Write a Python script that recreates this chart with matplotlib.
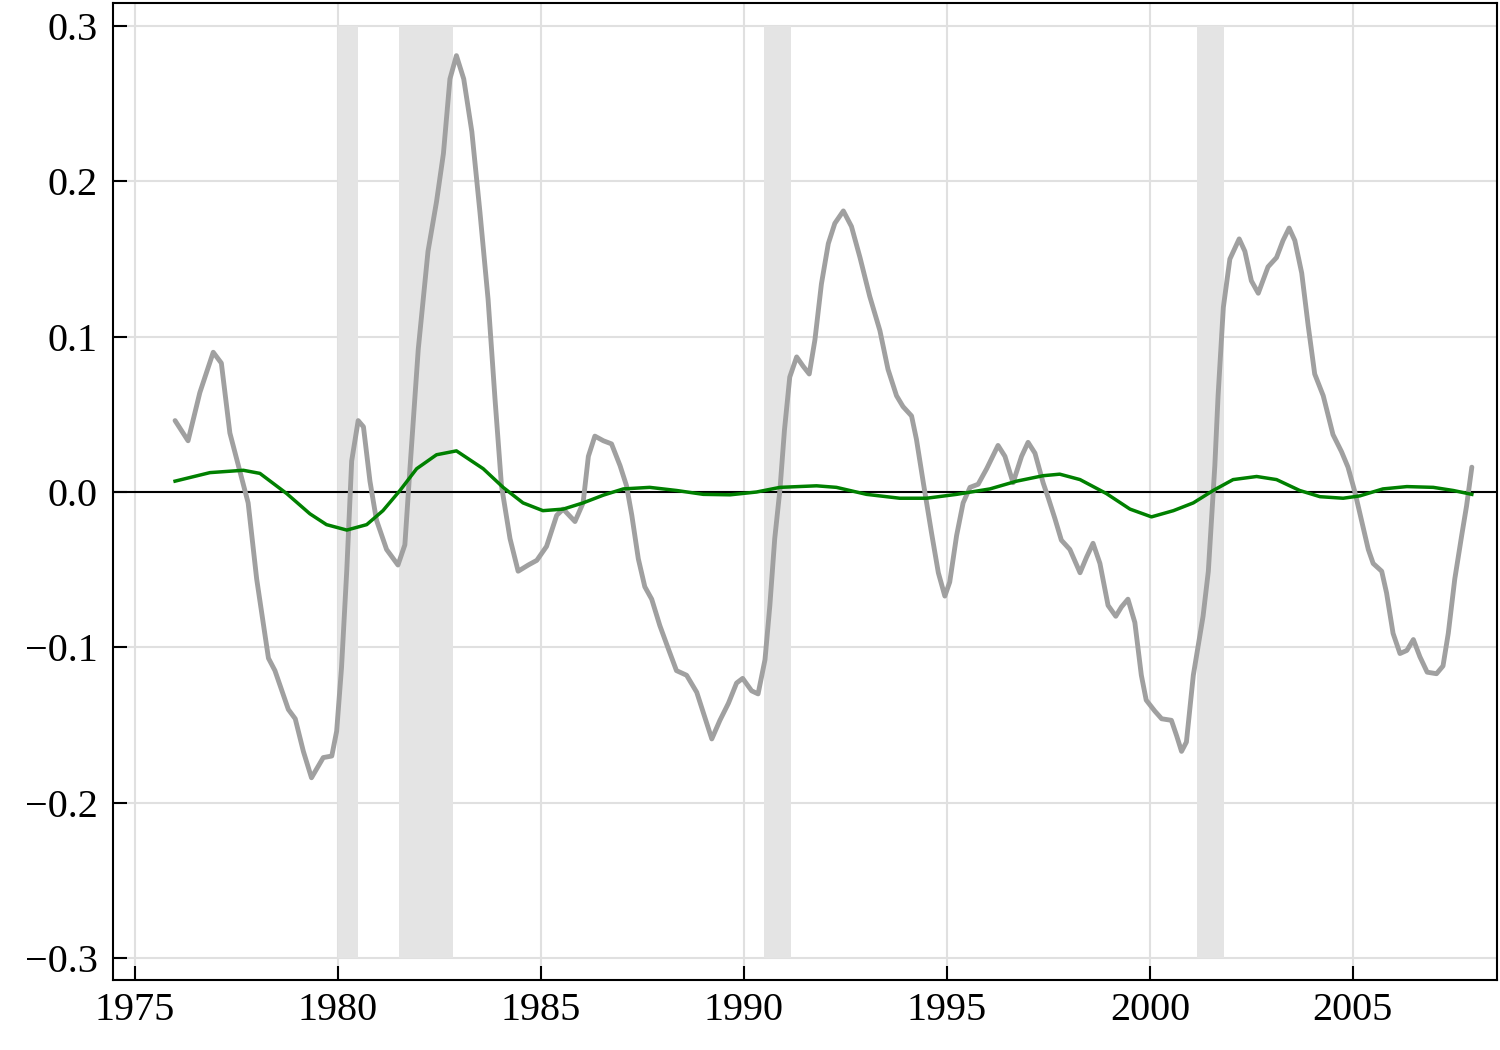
import matplotlib
matplotlib.use("Agg")
import matplotlib.pyplot as plt

plt.rcParams['font.family'] = ['Liberation Serif', 'DejaVu Serif']

# gray series (year, value)
gray_years = [1975.99, 1976.31, 1976.60, 1976.93, 1977.13, 1977.34, 1977.59, 1977.79,
              1978.00, 1978.29, 1978.45, 1978.78, 1978.95, 1979.15, 1979.35, 1979.64,
              1979.85, 1979.97, 1980.09, 1980.22, 1980.34, 1980.50, 1980.63, 1980.79,
              1980.95, 1981.20, 1981.48, 1981.65, 1981.77, 1981.98, 1982.22, 1982.43,
              1982.60, 1982.76, 1982.92, 1983.10, 1983.30, 1983.50, 1983.70, 1983.87,
              1984.03, 1984.24, 1984.44, 1984.69, 1984.90, 1985.14, 1985.39, 1985.55,
              1985.84, 1986.04, 1986.17, 1986.33, 1986.54, 1986.74, 1986.95, 1987.11,
              1987.24, 1987.40, 1987.56, 1987.73, 1987.93, 1988.14, 1988.34, 1988.59,
              1988.84, 1989.00, 1989.21, 1989.41, 1989.62, 1989.82, 1989.97, 1990.19,
              1990.35, 1990.52, 1990.64, 1990.76, 1990.89, 1991.00, 1991.13, 1991.30,
              1991.46, 1991.61, 1991.75, 1991.91, 1992.08, 1992.24, 1992.45, 1992.65,
              1992.86, 1993.10, 1993.35, 1993.55, 1993.76, 1993.92, 1994.13, 1994.25,
              1994.42, 1994.62, 1994.79, 1994.95, 1995.07, 1995.24, 1995.40, 1995.57,
              1995.77, 1995.98, 1996.26, 1996.43, 1996.63, 1996.84, 1997.00, 1997.17,
              1997.37, 1997.50, 1997.66, 1997.82, 1998.03, 1998.28, 1998.44, 1998.60,
              1998.77, 1998.97, 1999.16, 1999.30, 1999.46, 1999.63, 1999.79, 1999.91,
              2000.12, 2000.29, 2000.53, 2000.66, 2000.78, 2000.90, 2001.07, 2001.31,
              2001.44, 2001.52, 2001.60, 2001.68, 2001.81, 2001.97, 2002.20, 2002.34,
              2002.50, 2002.67, 2002.91, 2003.12, 2003.28, 2003.43, 2003.57, 2003.74,
              2003.90, 2004.06, 2004.27, 2004.51, 2004.72, 2004.88, 2005.05, 2005.21,
              2005.38, 2005.50, 2005.71, 2005.83, 2005.99, 2006.16, 2006.33, 2006.49,
              2006.65, 2006.83, 2007.06, 2007.22, 2007.35, 2007.51, 2007.68, 2007.80,
              2007.93]
gray_vals = [0.046, 0.033, 0.064, 0.090, 0.083, 0.038, 0.013, -0.007,
             -0.056, -0.107, -0.115, -0.140, -0.146, -0.167, -0.184, -0.171,
             -0.170, -0.154, -0.113, -0.050, 0.020, 0.046, 0.042, 0.007,
             -0.018, -0.037, -0.047, -0.034, 0.013, 0.092, 0.155, 0.187,
             0.218, 0.266, 0.281, 0.266, 0.232, 0.180, 0.124, 0.060,
             0.004, -0.030, -0.051, -0.047, -0.044, -0.035, -0.015, -0.011,
             -0.019, -0.007, 0.023, 0.036, 0.033, 0.031, 0.017, 0.004,
             -0.015, -0.043, -0.061, -0.069, -0.086, -0.101, -0.115, -0.118,
             -0.129, -0.142, -0.159, -0.147, -0.136, -0.123, -0.120, -0.128,
             -0.130, -0.108, -0.073, -0.030, 0.002, 0.040, 0.074, 0.087,
             0.081, 0.076, 0.098, 0.134, 0.160, 0.173, 0.181, 0.171,
             0.151, 0.126, 0.104, 0.079, 0.062, 0.055, 0.049, 0.034,
             0.006, -0.026, -0.052, -0.067, -0.058, -0.028, -0.007, 0.003,
             0.005, 0.015, 0.030, 0.023, 0.006, 0.023, 0.032, 0.025,
             0.006, -0.004, -0.017, -0.031, -0.037, -0.052, -0.042, -0.033,
             -0.046, -0.073, -0.080, -0.074, -0.069, -0.084, -0.118, -0.134,
             -0.141, -0.146, -0.147, -0.157, -0.167, -0.161, -0.118, -0.080,
             -0.051, -0.017, 0.017, 0.062, 0.119, 0.150, 0.163, 0.155,
             0.136, 0.128, 0.145, 0.151, 0.162, 0.170, 0.162, 0.141,
             0.107, 0.076, 0.062, 0.037, 0.026, 0.016, 0.000, -0.018,
             -0.037, -0.046, -0.051, -0.065, -0.091, -0.104, -0.102, -0.095,
             -0.106, -0.116, -0.117, -0.112, -0.091, -0.056, -0.028, -0.009,
             0.016]

# smooth green series
green_years = [1975.99, 1976.85, 1977.67, 1978.08, 1978.74, 1979.31, 1979.72, 1980.22,
               1980.71, 1981.11, 1981.53, 1981.94, 1982.43, 1982.92, 1983.58, 1984.07,
               1984.56, 1985.05, 1985.55, 1986.04, 1986.54, 1987.03, 1987.68, 1988.34,
               1989.00, 1989.66, 1990.31, 1990.89, 1991.79, 1992.28, 1993.02, 1993.84,
               1994.50, 1995.24, 1996.06, 1996.72, 1997.37, 1997.78, 1998.28, 1998.93,
               1999.51, 2000.04, 2000.58, 2001.07, 2001.56, 2002.05, 2002.63, 2003.12,
               2003.69, 2004.19, 2004.76, 2005.17, 2005.74, 2006.33, 2006.98, 2007.47,
               2007.93]
green_vals = [0.0070, 0.0125, 0.0140, 0.0120, -0.0010, -0.0140, -0.0210, -0.0245,
              -0.0210, -0.0120, 0.0010, 0.0150, 0.0240, 0.0265, 0.0150, 0.0030,
              -0.0070, -0.0120, -0.0110, -0.0070, -0.0020, 0.0020, 0.0030, 0.0010,
              -0.0015, -0.0018, 0.0000, 0.0030, 0.0040, 0.0030, -0.0015, -0.0040,
              -0.0040, -0.0015, 0.0020, 0.0070, 0.0105, 0.0115, 0.0080, -0.0010,
              -0.0110, -0.0160, -0.0120, -0.0070, 0.0010, 0.0080, 0.0100, 0.0080,
              0.0010, -0.0030, -0.0040, -0.0025, 0.0020, 0.0035, 0.0030, 0.0010,
              -0.0015]

# recession periods
rec_start = [1980.0, 1981.5, 1990.5, 2001.17]
rec_end = [1980.5, 1982.83, 1991.17, 2001.83]

xticks = [1975, 1980, 1985, 1990, 1995, 2000, 2005]
yticks = [-0.3, -0.2, -0.1, 0.0, 0.1, 0.2, 0.3]

fig = plt.figure(figsize=(15, 10.5), dpi=100)
ax = fig.add_axes([0.0753, 0.0667, 0.9227, 0.9303])

ax.grid(True, color='#e0e0e0', linewidth=1.5)
ax.set_axisbelow(True)

widths = [e - s for s, e in zip(rec_start, rec_end)]
ax.bar(rec_start, height=0.6, width=widths, bottom=-0.3, align='edge',
       color='#e4e4e4', linewidth=0, zorder=1)

ax.axhline(0, color='k', linewidth=1.5, zorder=2)
ax.plot(gray_years, gray_vals, color='#a0a0a0', linewidth=3.5, zorder=3,
        solid_joinstyle='round', solid_capstyle='round')
ax.plot(green_years, green_vals, color='#008000', linewidth=2.5, zorder=4,
        solid_joinstyle='round')

ax.set_xlim(1974.46, 2008.55)
ax.set_ylim(-0.3142, 0.3148)
ax.set_xticks(xticks)
ax.set_yticks(yticks)
ax.set_yticklabels(['\u22120.3', '\u22120.2', '\u22120.1', '0.0', '0.1', '0.2', '0.3'])

for s in ax.spines.values():
    s.set_linewidth(1.5)
ax.tick_params(direction='in', length=10, width=1.5, labelsize=29,
               top=False, right=False)
ax.tick_params(axis='y', pad=11)
ax.tick_params(axis='x', pad=9)

fig.savefig('out.png', dpi=100)
